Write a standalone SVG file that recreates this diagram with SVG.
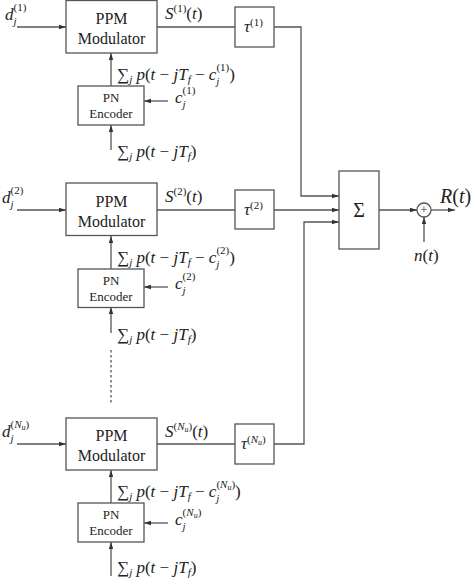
<svg xmlns="http://www.w3.org/2000/svg" width="474" height="578" viewBox="0 0 474 578">
<defs>
<marker id="ah" markerWidth="7" markerHeight="6" refX="7" refY="3" orient="auto" markerUnits="userSpaceOnUse"><path d="M0,0.8 L7,3 L0,5.2 Z" fill="#333"/></marker>
<style>
.box{fill:#fff;stroke:#555;stroke-width:1.3}
.ln{fill:none;stroke:#555;stroke-width:1.3}
.ar{fill:none;stroke:#555;stroke-width:1.3;marker-end:url(#ah)}
.t{font-family:"Liberation Serif","Times New Roman",serif;fill:#222}
.big{font-size:16px}
.pn{font-size:13px}
.m{font-family:"Liberation Serif","Times New Roman",serif;font-size:17px;fill:#222}
.i{font-style:italic}
.s{font-size:11px}
.ss{font-size:8px}
</style>
</defs>

<g id="connectors">
<line class="ar" x1="17" y1="27" x2="66" y2="27"/>
<line class="ln" x1="157" y1="27" x2="235" y2="27"/>
<polyline class="ar" points="274,27 301,27 301,196 339,196"/>
<line class="ar" x1="111" y1="86" x2="111" y2="53"/>
<line class="ar" x1="168" y1="101" x2="144" y2="101"/>
<line class="ar" x1="111" y1="150" x2="111" y2="125"/>

<line class="ar" x1="17" y1="210" x2="66" y2="210"/>
<line class="ln" x1="157" y1="210" x2="235" y2="210"/>
<line class="ar" x1="274" y1="210" x2="339" y2="210"/>
<line class="ar" x1="111" y1="269" x2="111" y2="236"/>
<line class="ar" x1="168" y1="287" x2="144" y2="287"/>
<line class="ar" x1="111" y1="333" x2="111" y2="307"/>

<line class="ln" x1="111" y1="350" x2="111" y2="405" stroke-dasharray="2.5,2.5"/>

<line class="ar" x1="17" y1="444" x2="66" y2="444"/>
<line class="ln" x1="157" y1="444" x2="235" y2="444"/>
<polyline class="ar" points="274,444 304,444 304,222 339,222"/>
<line class="ar" x1="111" y1="503" x2="111" y2="470"/>
<line class="ar" x1="168" y1="523" x2="144" y2="523"/>
<line class="ar" x1="111" y1="576" x2="111" y2="542"/>

<line class="ar" x1="379" y1="210" x2="417" y2="210"/>
<line class="ar" x1="431" y1="210" x2="455" y2="210"/>
<line class="ar" x1="424" y1="242" x2="424" y2="217"/>
</g>

<!-- Block 1 -->
<g id="ppm1"><rect class="box" x="66" y="0.5" width="91" height="52.5"/>
<text class="t big" x="111.5" y="24" text-anchor="middle">PPM</text>
<text class="t big" x="111.5" y="44" text-anchor="middle">Modulator</text></g>
<g id="pn1"><rect class="box" x="78" y="86" width="66" height="39"/>
<text class="t pn" x="111" y="102" text-anchor="middle">PN</text>
<text class="t pn" x="111" y="118" text-anchor="middle">Encoder</text></g>
<g id="tau1"><rect class="box" x="235" y="7" width="39" height="40"/>
<text class="m" x="244" y="32"><tspan class="i">τ</tspan><tspan class="s" dy="-6">(1)</tspan></text></g>

<!-- Block 2 -->
<g id="ppm2"><rect class="box" x="66" y="183" width="91" height="52.5"/>
<text class="t big" x="111.5" y="207" text-anchor="middle">PPM</text>
<text class="t big" x="111.5" y="227" text-anchor="middle">Modulator</text></g>
<g id="pn2"><rect class="box" x="78" y="269" width="66" height="38.5"/>
<text class="t pn" x="111" y="285" text-anchor="middle">PN</text>
<text class="t pn" x="111" y="301" text-anchor="middle">Encoder</text></g>
<g id="tau2"><rect class="box" x="235" y="190" width="39" height="39"/>
<text class="m" x="244" y="215"><tspan class="i">τ</tspan><tspan class="s" dy="-6">(2)</tspan></text></g>

<!-- Block Nu -->
<g id="ppm3"><rect class="box" x="66" y="418" width="91" height="52"/>
<text class="t big" x="111.5" y="441" text-anchor="middle">PPM</text>
<text class="t big" x="111.5" y="461" text-anchor="middle">Modulator</text></g>
<g id="pn3"><rect class="box" x="78" y="503" width="66" height="39"/>
<text class="t pn" x="111" y="519" text-anchor="middle">PN</text>
<text class="t pn" x="111" y="535" text-anchor="middle">Encoder</text></g>
<g id="tau3"><rect class="box" x="235" y="424" width="39" height="40"/>
<text class="m" x="241" y="449"><tspan class="i">τ</tspan><tspan class="s" dy="-6">(</tspan><tspan class="s i">N</tspan><tspan class="ss i" dy="2">u</tspan><tspan class="s" dy="-2">)</tspan></text></g>

<!-- Sum and adder -->
<g id="sigma"><rect class="box" x="339" y="171" width="40" height="78"/>
<text class="t" x="359" y="217" font-size="20" text-anchor="middle">Σ</text></g>
<g id="adder"><circle cx="424" cy="210" r="7" fill="#fff" stroke="#555" stroke-width="1.3"/>
<text class="t" x="424" y="214" font-size="12" text-anchor="middle">+</text></g>

<!-- Labels -->
<g id="labels">
<text class="m" x="5" y="20"><tspan class="i">d</tspan><tspan class="s i" dy="5">j</tspan><tspan class="s" dx="-3" dy="-14">(1)</tspan></text>
<text class="m" x="2" y="203"><tspan class="i">d</tspan><tspan class="s i" dy="5">j</tspan><tspan class="s" dx="-3" dy="-14">(2)</tspan></text>
<text class="m" x="2" y="437"><tspan class="i">d</tspan><tspan class="s i" dy="5">j</tspan><tspan class="s" dx="-3" dy="-14">(</tspan><tspan class="s i">N</tspan><tspan class="ss i" dy="2">u</tspan><tspan class="s" dy="-2">)</tspan></text>

<text class="m" x="165" y="19"><tspan class="i">S</tspan><tspan class="s" dy="-7">(1)</tspan><tspan dy="7">(</tspan><tspan class="i">t</tspan>)</text>
<text class="m" x="165" y="202"><tspan class="i">S</tspan><tspan class="s" dy="-7">(2)</tspan><tspan dy="7">(</tspan><tspan class="i">t</tspan>)</text>
<text class="m" x="165" y="437"><tspan class="i">S</tspan><tspan class="s" dy="-7">(</tspan><tspan class="s i">N</tspan><tspan class="ss i" dy="2">u</tspan><tspan class="s" dy="-2">)</tspan><tspan dy="7">(</tspan><tspan class="i">t</tspan>)</text>

<text class="m" x="117" y="80">∑<tspan class="s i" dy="3">j</tspan><tspan class="i" dy="-3"> p</tspan>(<tspan class="i">t</tspan> − <tspan class="i">jT</tspan><tspan class="s i" dy="3">f</tspan><tspan dy="-3"> − </tspan><tspan class="i">c</tspan><tspan class="s i" dy="5">j</tspan><tspan class="s" dx="-3" dy="-14">(1)</tspan><tspan dy="9">)</tspan></text>
<text class="m" x="117" y="263">∑<tspan class="s i" dy="3">j</tspan><tspan class="i" dy="-3"> p</tspan>(<tspan class="i">t</tspan> − <tspan class="i">jT</tspan><tspan class="s i" dy="3">f</tspan><tspan dy="-3"> − </tspan><tspan class="i">c</tspan><tspan class="s i" dy="5">j</tspan><tspan class="s" dx="-3" dy="-14">(2)</tspan><tspan dy="9">)</tspan></text>
<text class="m" x="117" y="497">∑<tspan class="s i" dy="3">j</tspan><tspan class="i" dy="-3"> p</tspan>(<tspan class="i">t</tspan> − <tspan class="i">jT</tspan><tspan class="s i" dy="3">f</tspan><tspan dy="-3"> − </tspan><tspan class="i">c</tspan><tspan class="s i" dy="5">j</tspan><tspan class="s" dx="-3" dy="-14">(</tspan><tspan class="s i">N</tspan><tspan class="ss i" dy="2">u</tspan><tspan class="s" dy="-2">)</tspan><tspan dy="9">)</tspan></text>

<text class="m" x="175" y="103"><tspan class="i">c</tspan><tspan class="s i" dy="5">j</tspan><tspan class="s" dx="-3" dy="-14">(1)</tspan></text>
<text class="m" x="175" y="289"><tspan class="i">c</tspan><tspan class="s i" dy="5">j</tspan><tspan class="s" dx="-3" dy="-14">(2)</tspan></text>
<text class="m" x="175" y="525"><tspan class="i">c</tspan><tspan class="s i" dy="5">j</tspan><tspan class="s" dx="-3" dy="-14">(</tspan><tspan class="s i">N</tspan><tspan class="ss i" dy="2">u</tspan><tspan class="s" dy="-2">)</tspan></text>

<text class="m" x="117" y="157">∑<tspan class="s i" dy="3">j</tspan><tspan class="i" dy="-3"> p</tspan>(<tspan class="i">t</tspan> − <tspan class="i">jT</tspan><tspan class="s i" dy="3">f</tspan><tspan dy="-3">)</tspan></text>
<text class="m" x="117" y="340">∑<tspan class="s i" dy="3">j</tspan><tspan class="i" dy="-3"> p</tspan>(<tspan class="i">t</tspan> − <tspan class="i">jT</tspan><tspan class="s i" dy="3">f</tspan><tspan dy="-3">)</tspan></text>
<text class="m" x="117" y="573">∑<tspan class="s i" dy="3">j</tspan><tspan class="i" dy="-3"> p</tspan>(<tspan class="i">t</tspan> − <tspan class="i">jT</tspan><tspan class="s i" dy="3">f</tspan><tspan dy="-3">)</tspan></text>

<text class="m" x="440" y="203" style="font-size:20px"><tspan class="i">R</tspan>(<tspan class="i">t</tspan>)</text>
<text class="m" x="414" y="261"><tspan class="i">n</tspan>(<tspan class="i">t</tspan>)</text>
</g>
</svg>
